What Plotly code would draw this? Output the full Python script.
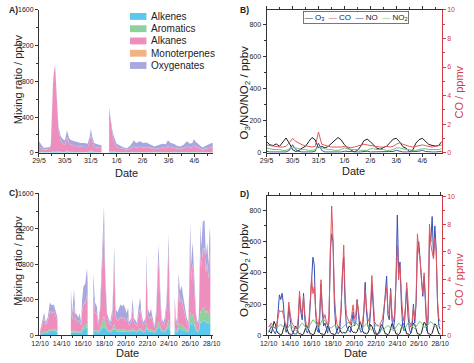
import plotly.graph_objects as go

FONT = "Arial, Liberation Sans, sans-serif"
W, H = 474, 363

# ---------------- data ----------------
species = ["Alkenes", "Aromatics", "Alkanes", "Monoterpenes", "Oxygenates"]
species_colors = ["#5CC8EE", "#8ED19C", "#EE8EBE", "#F2B482", "#A8A8DE"]

ab_tick_days = [0, 1, 2, 3, 4, 5, 6]
ab_tick_labels = ["29/5", "30/5", "31/5", "1/6", "2/6", "3/6", "4/6"]
cd_tick_days = [0, 2, 4, 6, 8, 10, 12, 14, 16]
cd_tick_labels = ["12/10", "14/10", "16/10", "18/10", "20/10", "22/10", "24/10", "26/10", "28/10"]

# Panel A: hours since 29/5 00:00 (None = data gap)
a_hours = [0, 2, 4, 6, 8, 10, 11, 12, 13, 14, 15, 16, 17, 18, 20, 22, 24, 26, 28, 30, 33, 36, 39, 42, 45, 47, 48, 49, 51, 54, 57, 58,
           None,
           65, 66, 68, 69.5, 72, 75.5, 78.5, 81.5, 84.5, 88, 90, 93.5, 96.5, 99.5, 102.5, 107, 111.5, 114.5, 117.5, 119.5,
           122, 125, 128, 131, 134, 137, 140, 142, 143.5, 145.5, 148.5, 151.5, 154.5, 157.5, 160, 161]
a_alkenes = [5, 4, 3, 3, 3, 3, 4, 8, 10, 12, 12, 10, 8, 6, 5, 5, 5, 15, 6, 5, 5, 4, 4, 4, 4, 10, 20, 12, 5, 4, 4, 4,
             None,
             8, 7, 6, 5, 4, 3, 3, 3, 3, 5, 4, 4, 4, 4, 4, 3, 3, 4, 4, 6, 4, 4, 3, 3, 4, 5, 4, 4, 6, 5, 4, 3, 3, 4, 4, 4]
a_aromatics = [4, 3, 2, 2, 2, 2, 3, 6, 8, 8, 8, 8, 6, 5, 4, 4, 4, 10, 5, 4, 4, 3, 3, 3, 3, 8, 15, 10, 4, 3, 3, 3,
               None,
               5, 5, 4, 4, 3, 3, 2, 2, 3, 4, 3, 3, 3, 3, 3, 2, 3, 3, 3, 4, 3, 3, 3, 2, 3, 4, 3, 3, 4, 4, 3, 2, 3, 3, 3, 3]
a_alkanes = [60, 45, 30, 30, 35, 40, 70, 470, 760, 890, 940, 710, 460, 250, 130, 90, 80, 150, 90, 80, 70, 65, 60, 60, 55, 110, 160, 120, 60, 50, 50, 45,
             None,
             480, 380, 200, 120, 55, 45, 35, 30, 40, 60, 50, 60, 50, 55, 50, 35, 45, 50, 45, 70, 55, 50, 40, 35, 45, 60, 50, 55, 70, 60, 45, 30, 40, 50, 55, 55]
a_monoterpenes = [1, 1, 1, 1, 1, 1, 1, 2, 2, 2, 2, 2, 2, 1, 1, 1, 1, 1, 1, 1, 1, 1, 1, 1, 1, 1, 2, 1, 1, 1, 1, 1,
                  None,
                  2, 2, 1, 1, 1, 1, 1, 1, 1, 1, 1, 1, 1, 1, 1, 1, 1, 1, 1, 1, 1, 1, 1, 1, 1, 1, 1, 1, 1, 1, 1, 1, 1, 1, 1, 1]
a_oxygenates = [60, 37, 24, 19, 19, 19, 22, 14, 20, 18, 18, 20, 24, 38, 50, 50, 50, 74, 58, 50, 50, 47, 42, 42, 37, 51, 73, 57, 40, 37, 32, 32,
                None,
                15, 26, 39, 50, 37, 28, 19, 14, 33, 70, 52, 62, 52, 52, 42, 29, 38, 42, 42, 59, 47, 42, 33, 29, 37, 60, 42, 47, 69, 50, 37, 24, 33, 42, 47, 47]

# Panel B: hours since 29/5 00:00
b_hours = [0, 3, 6, 9, 12, 15, 18, 21, 24, 27, 30, 33, 36, 39, 42, 45, 48, 51, 54, 57, 60, 63, 66, 69, 72, 75, 78, 81,
           84, 87, 90, 93, 96, 99, 102, 105, 108, 111, 114, 117, 120, 123, 126, 129, 132, 135, 138, 141, 144, 147, 150,
           153, 156, 159, 162]
b_o3 = [70, 50, 45, 55, 40, 70, 92, 60, 20, 8, 15, 30, 40, 70, 95, 80, 30, 40, 30, 40, 60, 80, 95, 80, 50, 30, 20, 5,
        15, 40, 75, 85, 68, 45, 28, 22, 30, 42, 62, 85, 90, 68, 38, 28, 8, 15, 60, 82, 90, 70, 52, 46, 42, 45, 70]
b_co = [0.55, 0.5, 0.45, 0.45, 0.4, 0.4, 0.45, 0.7, 1.0, 0.8, 0.65, 0.55, 0.5, 0.45, 0.4, 0.45, 1.45, 0.6, 0.5, 0.45,
        0.4, 0.4, 0.35, 0.4, 0.45, 0.4, 0.35, 0.4, 0.45, 0.5, 0.6, 0.55, 0.5, 0.45, 0.45, 0.4, 0.4, 0.45, 0.4, 0.45,
        0.6, 0.7, 0.6, 0.5, 0.45, 0.4, 0.45, 0.5, 0.55, 0.5, 0.45, 0.4, 0.45, 0.5, 0.55]
b_no = [10, 5, 5, 5, 5, 5, 5, 15, 50, 20, 8, 5, 5, 5, 5, 10, 60, 15, 5, 5, 5, 5, 5, 5, 10, 8, 5, 5, 5, 5,
        8, 10, 5, 5, 5, 5, 5, 5, 5, 8, 15, 10, 5, 5, 5, 5, 8, 10, 15, 8, 5, 5, 5, 5, 8]
b_no2 = [30, 25, 20, 20, 20, 15, 15, 25, 35, 30, 25, 20, 20, 15, 15, 20, 35, 30, 25, 20, 20, 15, 15, 20, 30, 25, 20, 20,
         20, 15, 15, 15, 25, 25, 20, 20, 20, 15, 15, 20, 30, 30, 25, 20, 20, 15, 15, 20, 25, 25, 20, 20, 20, 20, 25]

# Panel C: hours since 12/10 00:00 (None = data gap)
c_hours = [0, 4, 9, 13, 17, 20, 22, 26, 30, 32, 36, 39,
           None,
           69, 72, 76, 79, 83, 86, 88.5, 92, 94, 97, 101, 103, 105, 106.5,
           None,
           119, 121, 123, 127, 130, 134, 139, 143, 146, 150, 153, 157, 162, 166, 169, 173, 176, 180, 184, 187,
           191, 194, 197, 199, 204, 207, 210, 213, 217, 220, 224, 227, 231, 236, 238, 241, 245, 248, 252, 256,
           260, 265, 269, 272, 276, 279, 283, 288, 290, 291.5,
           None,
           301, 304, 307, 310, 313, 317, 320, 324, 328, 332, 336, 338, 341, 343, 346, 349, 352, 355, 359, 361,
           364, 368, 371, 374, 377, 379.5, 381]
c_alkenes = [10, 20, 30, 25, 30, 40, 50, 55, 55, 55, 45, 40,
             None,
             30, 30, 40, 30, 30, 25, 30, 25, 50, 70, 80, 90, 90, 80,
             None,
             40, 40, 45, 40, 30, 50, 80, 100, 80, 50, 40, 35, 50, 80, 50, 45, 45, 50, 50, 50,
             45, 40, 45, 35, 40, 55, 40, 40, 35, 50, 60, 45, 35, 40, 90, 50, 45, 50, 40, 30,
             50, 100, 70, 45, 35, 40, 60, 110, 60, 45,
             None,
             60, 40, 35, 80, 70, 70, 60, 50, 40, 35, 150, 120, 140, 130, 100, 50, 35, 45, 150, 140,
             160, 170, 140, 150, 130, 160, 150]
c_aromatics = [5, 10, 15, 12, 15, 20, 20, 20, 20, 20, 15, 15,
               None,
               15, 15, 20, 15, 15, 12, 15, 12, 25, 30, 35, 40, 40, 35,
               None,
               20, 20, 20, 20, 10, 25, 60, 120, 60, 25, 20, 15, 25, 50, 25, 20, 20, 20, 20, 20,
               20, 18, 20, 15, 18, 25, 18, 15, 12, 20, 25, 18, 12, 15, 50, 20, 18, 20, 15, 10,
               25, 60, 35, 18, 12, 15, 25, 70, 30, 18,
               None,
               30, 20, 15, 60, 45, 50, 40, 30, 20, 15, 120, 80, 100, 90, 60, 25, 15, 20, 130, 110,
               150, 150, 110, 130, 100, 140, 130]
c_alkanes = [25, 90, 150, 80, 110, 160, 200, 180, 190, 180, 140, 110,
             None,
             300, 130, 280, 130, 120, 100, 130, 70, 200, 250, 250, 300, 320, 250,
             None,
             450, 270, 200, 180, 70, 150, 600, 1000, 450, 120, 90, 60, 150, 700, 140, 100, 110, 130, 120, 130,
             110, 100, 140, 60, 90, 220, 90, 80, 60, 150, 220, 120, 65, 90, 620, 150, 120, 150, 90, 40,
             150, 700, 280, 90, 65, 90, 220, 780, 220, 90,
             None,
             250, 90, 60, 380, 260, 290, 230, 150, 90, 60, 700, 420, 560, 480, 300, 120, 60, 90, 680, 520,
             650, 660, 450, 530, 400, 620, 560]
c_monoterpenes = [2, 3, 5, 3, 4, 5, 5, 5, 5, 5, 4, 3,
                  None,
                  5, 3, 5, 3, 3, 3, 3, 2, 4, 5, 5, 6, 6, 5,
                  None,
                  5, 4, 4, 3, 2, 3, 8, 10, 6, 3, 3, 2, 3, 8, 3, 3, 3, 4, 4, 4,
                  3, 3, 3, 2, 2, 4, 2, 2, 2, 3, 4, 3, 2, 2, 8, 3, 3, 3, 2, 1,
                  3, 8, 5, 2, 2, 2, 4, 10, 4, 2,
                  None,
                  4, 2, 2, 6, 5, 5, 4, 3, 2, 2, 10, 7, 9, 8, 5, 3, 2, 2, 10, 8,
                  10, 10, 7, 9, 7, 10, 9]
c_oxygenates = [8, 27, 60, 30, 41, 75, 95, 80, 80, 70, 46, 32,
                None,
                170, 72, 175, 72, 62, 60, 72, 41, 121, 195, 210, 264, 304, 230,
                None,
                185, 116, 101, 87, 38, 72, 152, 230, 104, 52, 47, 38, 72, 162, 82, 92, 122, 146, 136, 146,
                122, 89, 112, 38, 50, 116, 50, 43, 31, 77, 121, 64, 36, 53, 152, 77, 64, 77, 53, 19,
                72, 162, 110, 45, 36, 53, 91, 170, 86, 45,
                None,
                96, 48, 38, 174, 120, 145, 116, 67, 48, 38, 290, 173, 241, 192, 135, 52, 38, 43, 280, 222,
                310, 310, 193, 231, 163, 290, 251]

# Panel D: hours since 12/10 00:00
d_hours = [0, 3, 6, 9, 12, 15, 18, 21,
           24, 27, 30, 33, 36, 39, 42, 45,
           48, 51, 54, 57, 60, 63, 66, 69,
           72, 75, 78, 81, 84, 87, 90, 93,
           96, 99, 102, 105, 108, 111, 114, 117,
           120, 123, 126, 129, 132, 135, 138, 141,
           144, 147, 150, 153, 156, 159, 162, 165,
           168, 171, 174, 177, 180, 183, 186, 189,
           192, 195, 198, 201, 204, 207, 210, 213,
           216, 219, 222, 225, 228, 231, 234, 237,
           240, 243, 246, 249, 252, 255, 258, 261,
           264, 267, 270, 273, 276, 279, 282, 285,
           288, 291, 294, 297, 300, 303, 306, 309,
           312, 315, 318, 321, 324, 327, 330, 333,
           336, 339, 342, 345, 348, 351, 354, 357,
           360, 363, 366, 369, 372, 375, 378, 381,
           384]
d_o3 = [30, 20, 15, 50, 90, 70, 30, 15,
        10, 5, 10, 40, 75, 60, 25, 10,
        10, 5, 10, 35, 60, 50, 20, 10,
        10, 5, 10, 35, 60, 55, 25, 10,
        10, 5, 10, 40, 65, 55, 20, 10,
        10, 5, 10, 35, 60, 50, 20, 10,
        10, 5, 10, 30, 55, 50, 20, 15,
        20, 15, 20, 40, 60, 55, 30, 20,
        20, 15, 25, 50, 90, 70, 30, 15,
        15, 10, 15, 40, 70, 60, 25, 10,
        10, 5, 15, 40, 70, 60, 25, 10,
        10, 5, 15, 45, 75, 65, 30, 10,
        10, 5, 15, 45, 80, 70, 30, 10,
        10, 5, 15, 45, 80, 70, 30, 10,
        10, 5, 15, 50, 85, 75, 30, 10,
        10, 5, 15, 45, 75, 65, 30, 10,
        10]
d_co = [0.6, 0.8, 0.9, 0.7, 0.6, 0.5, 0.8, 1.4,
        1.8, 1.7, 1.8, 1.5, 0.9, 0.6, 0.9, 2.4,
        1.6, 1.0, 0.8, 0.6, 0.5, 0.5, 1.2, 3.2,
        2.0, 1.5, 2.8, 1.5, 0.8, 0.6, 1.0, 2.5,
        4.2, 3.0, 3.5, 2.0, 1.0, 0.7, 1.5, 4.0,
        2.0, 1.2, 1.5, 1.0, 0.7, 1.5, 6.5, 9.3,
        7.0, 3.0, 1.5, 0.8, 0.6, 0.8, 2.0, 5.0,
        6.5, 3.0, 1.5, 1.2, 1.0, 0.8, 1.5, 2.2,
        1.2, 1.5, 2.5, 1.8, 1.0, 0.8, 0.9, 1.8,
        3.3, 2.0, 1.2, 1.0, 2.0, 4.3, 2.2, 1.0,
        0.8, 0.7, 0.7, 0.8, 1.0, 1.2, 2.0, 3.0,
        3.5, 1.8, 1.5, 3.2, 1.5, 1.0, 1.5, 4.0,
        6.5, 4.0, 5.0, 3.0, 1.5, 1.0, 2.0, 3.8,
        2.0, 1.0, 0.6, 1.0, 2.0, 1.2, 2.5, 7.3,
        6.0, 5.5, 4.0, 3.0, 4.5, 2.0, 0.8, 1.5,
        8.0, 6.5, 6.0, 5.5, 7.0, 6.0, 2.5, 1.2,
        1.0]
d_no = [20, 40, 60, 40, 20, 10, 40, 150,
        260, 230, 270, 200, 60, 20, 50, 180,
        100, 40, 20, 10, 10, 10, 60, 250,
        150, 100, 270, 100, 30, 15, 50, 200,
        350, 500, 450, 150, 40, 20, 90, 330,
        150, 60, 80, 40, 15, 90, 550, 650,
        600, 200, 60, 20, 10, 30, 150, 400,
        500, 200, 60, 40, 30, 20, 80, 150,
        60, 80, 230, 120, 40, 20, 30, 150,
        340, 150, 60, 40, 150, 330, 150, 40,
        15, 10, 10, 20, 40, 60, 150, 250,
        380, 130, 100, 300, 100, 40, 100, 350,
        770, 400, 470, 200, 60, 30, 150, 300,
        120, 40, 15, 40, 200, 80, 200, 550,
        600, 500, 350, 250, 380, 150, 30, 100,
        650, 600, 760, 500, 700, 550, 200, 60,
        40]
d_no2 = [60, 65, 60, 55, 50, 45, 50, 60,
         65, 70, 65, 55, 45, 40, 45, 55,
         70, 60, 50, 40, 35, 30, 40, 55,
         70, 80, 70, 55, 45, 40, 50, 70,
         90, 100, 95, 80, 60, 50, 60, 80,
         100, 105, 95, 80, 65, 55, 50, 50,
         60, 65, 60, 50, 40, 35, 40, 50,
         60, 70, 75, 80, 85, 70, 60, 60,
         70, 80, 75, 60, 45, 40, 50, 60,
         70, 75, 65, 50, 40, 35, 40, 55,
         65, 70, 60, 50, 40, 35, 40, 50,
         60, 65, 55, 45, 35, 30, 40, 55,
         70, 80, 70, 55, 45, 40, 50, 65,
         80, 85, 75, 60, 50, 45, 55, 70,
         85, 90, 80, 65, 55, 50, 60, 75,
         85, 90, 80, 70, 60, 55, 60, 70,
         70]

gas_names = ["O<sub>3</sub>", "CO", "NO", "NO<sub>2</sub>"]
gas_colors = ["#1E1E1E", "#E0575F", "#3B4FB4", "#74C274"]
CO_COLOR = "#D23A46"

# ---------------- helpers ----------------
def px_x(p):
    return p / W


def px_y(p):
    return 1 - p / H


def split_segments(hours):
    segs, cur = [], []
    for i, h in enumerate(hours):
        if h is None:
            if cur:
                segs.append(cur)
            cur = []
        else:
            cur.append(i)
    if cur:
        segs.append(cur)
    return segs


fig = go.Figure()


def add_stack(hours, series, xa, ya, tag):
    for k, seg in enumerate(split_segments(hours)):
        xs = [hours[i] / 24.0 for i in seg]
        for vals, col, name in zip(series, species_colors, species):
            fig.add_trace(go.Scatter(
                x=xs, y=[vals[i] for i in seg], mode="lines", name=name,
                stackgroup=f"{tag}{k}", line=dict(width=0, color=col), fillcolor=col,
                xaxis=xa, yaxis=ya, showlegend=False, hoverinfo="skip"))


add_stack(a_hours, [a_alkenes, a_aromatics, a_alkanes, a_monoterpenes, a_oxygenates], "x", "y", "A")
add_stack(c_hours, [c_alkenes, c_aromatics, c_alkanes, c_monoterpenes, c_oxygenates], "x3", "y3", "C")


def add_gases(hours, o3, co, no, no2, xa, ya, ya_co):
    xs = [h / 24.0 for h in hours]
    for vals, col, axis in [(o3, gas_colors[0], ya), (no, gas_colors[2], ya), (no2, gas_colors[3], ya),
                            (co, gas_colors[1], ya_co)]:
        fig.add_trace(go.Scatter(x=xs, y=vals, mode="lines", line=dict(width=1, color=col),
                                 xaxis=xa, yaxis=axis, showlegend=False, hoverinfo="skip"))


add_gases(b_hours, b_o3, b_co, b_no, b_no2, "x2", "y2", "y5")
add_gases(d_hours, d_o3, d_co, d_no, d_no2, "x4", "y4", "y6")

# ---------------- axes ----------------
tickfont = dict(family=FONT, size=7, color="#222")
AXC = "#333"
left_dom = [px_x(32), px_x(212)]
right_dom = [px_x(267), px_x(448)]
top_dom = [px_y(151.7), px_y(6)]
cbot_dom = [px_y(338), px_y(193)]
dbot_dom = [px_y(338), px_y(196)]


def xax(dom, anchor, rng, tv, tt, minor_dt, mirror=False):
    return dict(domain=dom, anchor=anchor, range=rng, tickmode="array", tickvals=tv, ticktext=tt,
                ticks="outside", ticklen=3, tickwidth=1, tickcolor=AXC, showline=True, linecolor=AXC,
                linewidth=1, mirror="ticks" if mirror else False, showgrid=False, zeroline=False,
                tickfont=tickfont, ticklabelstandoff=-2,
                minor=dict(tickmode="linear", tick0=0, dtick=minor_dt, ticks="outside", ticklen=2,
                           tickcolor=AXC, showgrid=False))


def yax(dom, anchor, rng, dt, mdt, color=AXC, side="left", overlaying=None):
    d = dict(domain=dom, anchor=anchor, range=rng, tickmode="linear", tick0=0, dtick=dt,
             ticks="outside", ticklen=3, tickwidth=1, tickcolor=color, showline=True, linecolor=color,
             linewidth=1, showgrid=False, zeroline=False, side=side,
             tickfont=dict(family=FONT, size=7, color=color if color != AXC else "#222"),
             minor=dict(tickmode="linear", tick0=0, dtick=mdt, ticks="outside", ticklen=2,
                        tickcolor=color, showgrid=False))
    if overlaying:
        d["overlaying"] = overlaying
    return d


fig.update_layout(
    xaxis=xax(left_dom, "y", [0, 6.73], ab_tick_days, ab_tick_labels, 0.5),
    yaxis=yax(top_dom, "x", [0, 1600], 400, 200),
    xaxis2=xax(right_dom, "y2", [0, 6.75], ab_tick_days, ab_tick_labels, 0.5, mirror=True),
    yaxis2=yax(top_dom, "x2", [0, 890], 200, 100),
    yaxis5=yax(top_dom, "x2", [0, 10], 2, 1, color=CO_COLOR, side="right", overlaying="y2"),
    xaxis3=xax(left_dom, "y3", [-0.1, 16.15], cd_tick_days, cd_tick_labels, 1),
    yaxis3=yax(cbot_dom, "x3", [0, 1600], 400, 200),
    xaxis4=xax(right_dom, "y4", [-0.2, 16.15], cd_tick_days, cd_tick_labels, 1, mirror=True),
    yaxis4=yax(dbot_dom, "x4", [0, 890], 200, 100),
    yaxis6=yax(dbot_dom, "x4", [0, 10], 2, 1, color=CO_COLOR, side="right", overlaying="y4"),
)

# ---------------- text ----------------
ann = []
shapes = []


def text(x, y, s, size, color="#222", angle=0, bold=False, xanchor="center", yanchor="middle"):
    ann.append(dict(x=px_x(x), y=px_y(y), xref="paper", yref="paper", text=f"<b>{s}</b>" if bold else s,
                    showarrow=False, textangle=angle, xanchor=xanchor, yanchor=yanchor,
                    font=dict(family=FONT, size=size, color=color)))


gas_title = "O<sub>3</sub>/NO/NO<sub>2</sub> / ppbv"
text(10, 77, "Mixing ratio / ppbv", 11, angle=-90)
text(122, 172, "Date", 11)
text(245, 90, gas_title, 11.5, angle=-90)
text(466, 90, "CO / ppmv", 11, color=CO_COLOR, angle=-90)
text(357, 170, "Date", 11)
text(10, 262, "Mixing ratio / ppbv", 11, angle=-90)
text(123, 356, "Date", 11)
text(244, 271, gas_title, 11.5, angle=-90)
text(465, 281, "CO / ppmv", 11, color=CO_COLOR, angle=-90)
text(359, 356, "Date", 11)

text(-1, 6, "A)", 8.5, bold=True, xanchor="left")
text(237, 6, "B)", 8.5, bold=True, xanchor="left")
text(-1, 193, "C)", 8.5, bold=True, xanchor="left")
text(237, 194, "D)", 8.5, bold=True, xanchor="left")

# Panel A legend
for i, (name, col) in enumerate(zip(species, species_colors)):
    yc = 12.7 + 12.5 * i
    shapes.append(dict(type="rect", xref="paper", yref="paper", x0=px_x(126), x1=px_x(143),
                       y0=px_y(yc + 3.5), y1=px_y(yc - 3.5), fillcolor=col, line=dict(width=0)))
    text(146, yc, name, 10, xanchor="left")

# Panel B legend (boxed, horizontal)
parts = [f'<span style="color:{c}">—</span> {n}' for n, c in zip(gas_names, gas_colors)]
ann.append(dict(x=px_x(359.5), y=px_y(14), xref="paper", yref="paper", text="  ".join(parts),
                showarrow=False, xanchor="center", yanchor="middle", bordercolor="#555", borderwidth=0.8,
                borderpad=1, bgcolor="white", font=dict(family=FONT, size=8, color="#222")))

fig.update_layout(
    width=W, height=H, margin=dict(l=0, r=0, t=0, b=0),
    paper_bgcolor="white", plot_bgcolor="white",
    annotations=ann, shapes=shapes, showlegend=False, hovermode=False,
    font=dict(family=FONT, size=8, color="#222"),
)

fig.write_html("out.html", config={"displayModeBar": False, "staticPlot": True},
               post_script="document.body.style.margin='0';document.body.style.overflow='hidden';")
